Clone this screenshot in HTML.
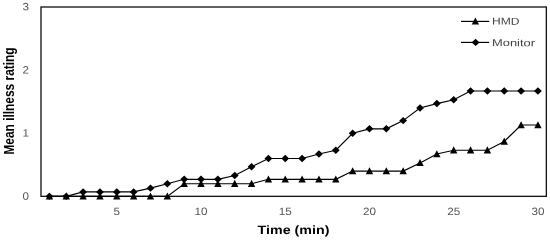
<!DOCTYPE html><html><head><meta charset="utf-8"><title>Mean illness rating</title><style>html,body{margin:0;padding:0;background:#fff;overflow:hidden}svg{display:block}text{font-family:"Liberation Sans",Arial,sans-serif}</style></head><body>
<svg width="550" height="241" viewBox="0 0 550 241">
<rect width="550" height="241" fill="#fff"/>
<rect x="41.0" y="7.0" width="505.35" height="189.35" fill="none" stroke="#141414" stroke-width="1.33"/>
<polyline points="49.42,196.35 66.27,196.35 83.11,191.93 99.96,191.93 116.80,191.93 133.65,191.93 150.49,188.14 167.34,183.73 184.18,179.31 201.03,179.31 217.87,179.31 234.72,175.52 251.56,166.69 268.41,158.48 285.25,158.48 302.10,158.48 318.94,154.06 335.79,150.27 352.63,133.23 369.48,128.82 386.32,128.82 403.17,120.61 420.01,107.99 436.86,103.57 453.70,99.78 470.55,90.95 487.39,90.95 504.24,90.95 521.08,90.95 537.93,90.95" fill="none" stroke="#000" stroke-width="1.15"/>
<polyline points="49.42,196.35 66.27,196.35 83.11,196.35 99.96,196.35 116.80,196.35 133.65,196.35 150.49,196.35 167.34,196.35 184.18,183.73 201.03,183.73 217.87,183.73 234.72,183.73 251.56,183.73 268.41,179.31 285.25,179.31 302.10,179.31 318.94,179.31 335.79,179.31 352.63,171.10 369.48,171.10 386.32,171.10 403.17,171.10 420.01,162.90 436.86,154.06 453.70,150.27 470.55,150.27 487.39,150.27 504.24,141.44 521.08,125.03 537.93,125.03" fill="none" stroke="#000" stroke-width="1.15"/>
<path d="M45.52,196.35L49.42,192.65L53.32,196.35L49.42,200.05Z" fill="#000"/>
<path d="M62.37,196.35L66.27,192.65L70.17,196.35L66.27,200.05Z" fill="#000"/>
<path d="M79.21,191.93L83.11,188.23L87.01,191.93L83.11,195.63Z" fill="#000"/>
<path d="M96.06,191.93L99.96,188.23L103.86,191.93L99.96,195.63Z" fill="#000"/>
<path d="M112.90,191.93L116.80,188.23L120.70,191.93L116.80,195.63Z" fill="#000"/>
<path d="M129.75,191.93L133.65,188.23L137.55,191.93L133.65,195.63Z" fill="#000"/>
<path d="M146.59,188.14L150.49,184.44L154.39,188.14L150.49,191.84Z" fill="#000"/>
<path d="M163.44,183.73L167.34,180.03L171.24,183.73L167.34,187.43Z" fill="#000"/>
<path d="M180.28,179.31L184.18,175.61L188.08,179.31L184.18,183.01Z" fill="#000"/>
<path d="M197.13,179.31L201.03,175.61L204.93,179.31L201.03,183.01Z" fill="#000"/>
<path d="M213.97,179.31L217.87,175.61L221.77,179.31L217.87,183.01Z" fill="#000"/>
<path d="M230.82,175.52L234.72,171.82L238.62,175.52L234.72,179.22Z" fill="#000"/>
<path d="M247.66,166.69L251.56,162.99L255.46,166.69L251.56,170.39Z" fill="#000"/>
<path d="M264.51,158.48L268.41,154.78L272.31,158.48L268.41,162.18Z" fill="#000"/>
<path d="M281.35,158.48L285.25,154.78L289.15,158.48L285.25,162.18Z" fill="#000"/>
<path d="M298.20,158.48L302.10,154.78L306.00,158.48L302.10,162.18Z" fill="#000"/>
<path d="M315.04,154.06L318.94,150.36L322.84,154.06L318.94,157.76Z" fill="#000"/>
<path d="M331.89,150.27L335.79,146.57L339.69,150.27L335.79,153.97Z" fill="#000"/>
<path d="M348.73,133.23L352.63,129.53L356.53,133.23L352.63,136.93Z" fill="#000"/>
<path d="M365.58,128.82L369.48,125.12L373.38,128.82L369.48,132.52Z" fill="#000"/>
<path d="M382.42,128.82L386.32,125.12L390.22,128.82L386.32,132.52Z" fill="#000"/>
<path d="M399.27,120.61L403.17,116.91L407.07,120.61L403.17,124.31Z" fill="#000"/>
<path d="M416.11,107.99L420.01,104.29L423.91,107.99L420.01,111.69Z" fill="#000"/>
<path d="M432.96,103.57L436.86,99.87L440.76,103.57L436.86,107.27Z" fill="#000"/>
<path d="M449.80,99.78L453.70,96.08L457.60,99.78L453.70,103.48Z" fill="#000"/>
<path d="M466.65,90.95L470.55,87.25L474.45,90.95L470.55,94.65Z" fill="#000"/>
<path d="M483.49,90.95L487.39,87.25L491.29,90.95L487.39,94.65Z" fill="#000"/>
<path d="M500.34,90.95L504.24,87.25L508.14,90.95L504.24,94.65Z" fill="#000"/>
<path d="M517.18,90.95L521.08,87.25L524.98,90.95L521.08,94.65Z" fill="#000"/>
<path d="M534.03,90.95L537.93,87.25L541.83,90.95L537.93,94.65Z" fill="#000"/>
<path d="M45.72,199.55L49.42,192.45L53.12,199.55Z" fill="#000"/>
<path d="M62.57,199.55L66.27,192.45L69.97,199.55Z" fill="#000"/>
<path d="M79.41,199.55L83.11,192.45L86.81,199.55Z" fill="#000"/>
<path d="M96.26,199.55L99.96,192.45L103.66,199.55Z" fill="#000"/>
<path d="M113.10,199.55L116.80,192.45L120.50,199.55Z" fill="#000"/>
<path d="M129.95,199.55L133.65,192.45L137.35,199.55Z" fill="#000"/>
<path d="M146.79,199.55L150.49,192.45L154.19,199.55Z" fill="#000"/>
<path d="M163.64,199.55L167.34,192.45L171.04,199.55Z" fill="#000"/>
<path d="M180.48,186.93L184.18,179.83L187.88,186.93Z" fill="#000"/>
<path d="M197.33,186.93L201.03,179.83L204.73,186.93Z" fill="#000"/>
<path d="M214.17,186.93L217.87,179.83L221.57,186.93Z" fill="#000"/>
<path d="M231.02,186.93L234.72,179.83L238.42,186.93Z" fill="#000"/>
<path d="M247.86,186.93L251.56,179.83L255.26,186.93Z" fill="#000"/>
<path d="M264.71,182.51L268.41,175.41L272.11,182.51Z" fill="#000"/>
<path d="M281.55,182.51L285.25,175.41L288.95,182.51Z" fill="#000"/>
<path d="M298.40,182.51L302.10,175.41L305.80,182.51Z" fill="#000"/>
<path d="M315.24,182.51L318.94,175.41L322.64,182.51Z" fill="#000"/>
<path d="M332.09,182.51L335.79,175.41L339.49,182.51Z" fill="#000"/>
<path d="M348.93,174.30L352.63,167.20L356.33,174.30Z" fill="#000"/>
<path d="M365.78,174.30L369.48,167.20L373.18,174.30Z" fill="#000"/>
<path d="M382.62,174.30L386.32,167.20L390.02,174.30Z" fill="#000"/>
<path d="M399.47,174.30L403.17,167.20L406.87,174.30Z" fill="#000"/>
<path d="M416.31,166.10L420.01,159.00L423.71,166.10Z" fill="#000"/>
<path d="M433.16,157.26L436.86,150.16L440.56,157.26Z" fill="#000"/>
<path d="M450.00,153.47L453.70,146.37L457.40,153.47Z" fill="#000"/>
<path d="M466.85,153.47L470.55,146.37L474.25,153.47Z" fill="#000"/>
<path d="M483.69,153.47L487.39,146.37L491.09,153.47Z" fill="#000"/>
<path d="M500.54,144.64L504.24,137.54L507.94,144.64Z" fill="#000"/>
<path d="M517.38,128.23L521.08,121.13L524.78,128.23Z" fill="#000"/>
<path d="M534.23,128.23L537.93,121.13L541.63,128.23Z" fill="#000"/>
<line x1="461" y1="21.4" x2="489.2" y2="21.4" stroke="#000" stroke-width="1.15"/>
<path d="M471.70,24.60L475.40,17.50L479.10,24.60Z" fill="#000"/>
<line x1="461" y1="42.4" x2="489.2" y2="42.4" stroke="#000" stroke-width="1.15"/>
<path d="M471.70,42.40L475.60,38.70L479.50,42.40L475.60,46.10Z" fill="#000"/>
<text transform="translate(492.00,24.60) rotate(0.1)" font-size="10" fill="#404040" textLength="27.40" lengthAdjust="spacingAndGlyphs">HMD</text>
<text transform="translate(492.00,46.10) rotate(0.1)" font-size="10" fill="#404040" textLength="43.00" lengthAdjust="spacingAndGlyphs">Monitor</text>
<text transform="translate(22.50,199.65) rotate(0.1)" font-size="10.6" fill="#555555" textLength="6.50" lengthAdjust="spacingAndGlyphs">0</text>
<text transform="translate(22.50,136.53) rotate(0.1)" font-size="10.6" fill="#555555" textLength="6.50" lengthAdjust="spacingAndGlyphs">1</text>
<text transform="translate(22.50,73.42) rotate(0.1)" font-size="10.6" fill="#555555" textLength="6.50" lengthAdjust="spacingAndGlyphs">2</text>
<text transform="translate(22.50,10.30) rotate(0.1)" font-size="10.6" fill="#555555" textLength="6.50" lengthAdjust="spacingAndGlyphs">3</text>
<text transform="translate(113.55,214.90) rotate(0.1)" font-size="10.6" fill="#555555" textLength="6.50" lengthAdjust="spacingAndGlyphs">5</text>
<text transform="translate(194.53,214.90) rotate(0.1)" font-size="10.6" fill="#555555" textLength="13.00" lengthAdjust="spacingAndGlyphs">10</text>
<text transform="translate(278.75,214.90) rotate(0.1)" font-size="10.6" fill="#555555" textLength="13.00" lengthAdjust="spacingAndGlyphs">15</text>
<text transform="translate(362.98,214.90) rotate(0.1)" font-size="10.6" fill="#555555" textLength="13.00" lengthAdjust="spacingAndGlyphs">20</text>
<text transform="translate(447.20,214.90) rotate(0.1)" font-size="10.6" fill="#555555" textLength="13.00" lengthAdjust="spacingAndGlyphs">25</text>
<text transform="translate(531.43,214.90) rotate(0.1)" font-size="10.6" fill="#555555" textLength="13.00" lengthAdjust="spacingAndGlyphs">30</text>
<text transform="translate(257.60,234.00) rotate(0.1)" font-size="12" fill="#000" font-weight="bold" textLength="71.80" lengthAdjust="spacingAndGlyphs">Time (min)</text>
<text transform="translate(13.8,154.6) rotate(-90) scale(1,1.17)" font-size="12" font-weight="bold" fill="#000" textLength="107.2" lengthAdjust="spacingAndGlyphs">Mean illness rating</text>
</svg></body></html>
